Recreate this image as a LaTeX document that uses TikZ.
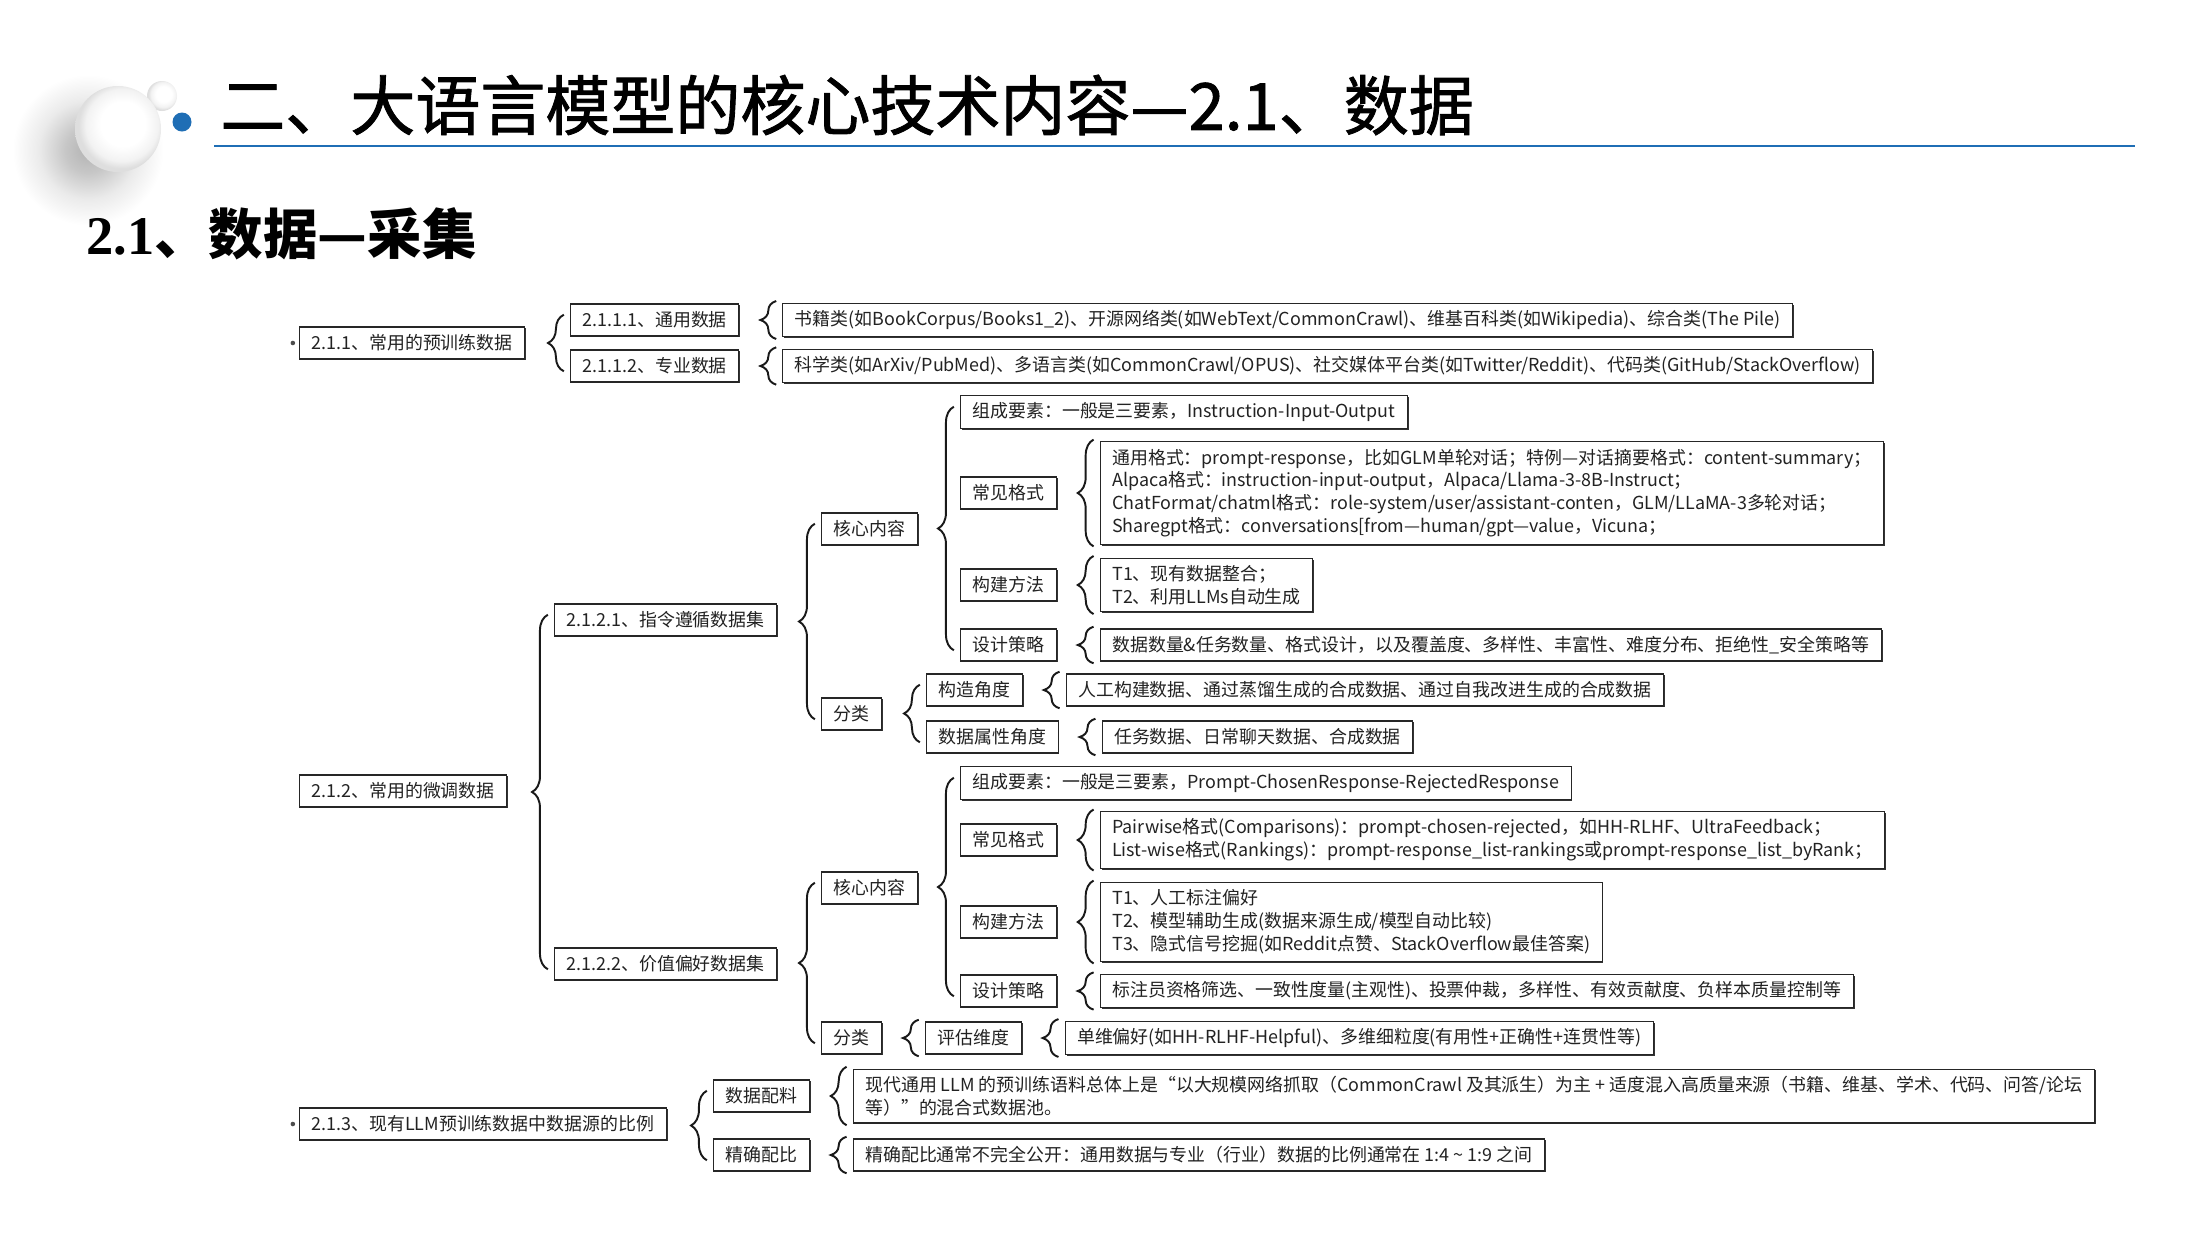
\documentclass[tikz,border=0pt]{standalone}
\usepackage{fontspec}
\setmainfont{Noto Sans CJK SC}
\newfontfamily\serifbold{Liberation Serif}
\newfontfamily\titlefont{Noto Sans CJK SC}[FakeBold=1.3]
\usepackage{xcolor}
\usepackage{tikz}
\usetikzlibrary{positioning, decorations.pathreplacing, shadows}

\definecolor{titleblue}{RGB}{31,110,181}
\definecolor{mapink}{RGB}{34,34,34}
\newcommand\mapfont{\fontsize{10.2}{13}\selectfont}

\pgfdeclareradialshading{softshadow}{\pgfpoint{0bp}{0bp}}{%
  color(0bp)=(black!30); color(7bp)=(black!22); color(15bp)=(black!8); color(23bp)=(white); color(50bp)=(white)}
\pgfdeclareradialshading{spherelit}{\pgfpoint{4bp}{4bp}}{%
  color(0bp)=(white); color(13bp)=(white); color(21bp)=(black!5); color(25bp)=(black!13); color(50bp)=(black!13)}

\begin{document}
\begin{tikzpicture}[
        x=0.02cm, y=-0.02cm,
        node distance = 0.86cm,
        box/.style = {draw=black!85, line width=0.6pt, fill=white, text=mapink, font=\mapfont, inner xsep=0.24cm, inner ysep=4pt, minimum height=0.64cm, align=left, anchor=west, drop shadow={shadow xshift=0.8pt, shadow yshift=-0.8pt, opacity=1, fill=black!80}},
        brc/.style = {decorate, decoration={brace, amplitude=9pt}, line width=1.1pt, black!90},
        dotm/.style = {circle, fill=black!70, inner sep=0pt, minimum size=2.6pt}
    ]
        \fill[white] (0,0) rectangle (2200,1238);
        \useasboundingbox (0,0) rectangle (2200,1238);

        % Header: spheres, title, rule
        \shade[shading=softshadow] (88,150) circle (82);
        \shade[shading=spherelit] (162,96) circle (15);
        \shade[shading=spherelit] (118,129) circle (43);
        \fill[titleblue] (182,122) circle (9.5);
        \node[anchor=west, inner sep=0pt, font=\fontsize{37}{40}\titlefont] (title) at (220,105) {二、大语言模型的核心技术内容—2.1、数据};
        \draw[titleblue, line width=1.7pt] (214,146) -- (2135,146);
        \node[anchor=west, inner sep=0pt, font=\fontsize{31}{34}\selectfont\bfseries] (sub) at (86,234) {{\serifbold 2.1}、数据—采集};

        % 2.1.1 pre-training data
        \node [box] (n211) at (299,343) {2.1.1、常用的预训练数据};
        \node [dotm, left=2pt of n211] (d211) {};
        \node [box] (n2111) at (570,320) {2.1.1.1、通用数据};
        \node [box] (n2112) at (570,366) {2.1.1.2、专业数据};
        \node [box, right=of n2111] (t2111) {书籍类(如BookCorpus/Books1\_2)、开源网络类(如WebText/CommonCrawl)、维基百科类(如Wikipedia)、综合类(The Pile)};
        \node [box, right=of n2112] (t2112) {科学类(如ArXiv/PubMed)、多语言类(如CommonCrawl/OPUS)、社交媒体平台类(如Twitter/Reddit)、代码类(GitHub/StackOverflow)};

        % 2.1.2 fine-tuning data
        \node [box] (n212) at (299,791) {2.1.2、常用的微调数据};
        \node [box] (n2121) at (554,620) {2.1.2.1、指令遵循数据集};
        \node [box] (n2122) at (554,964) {2.1.2.2、价值偏好数据集};

        % 2.1.2.1 instruction data
        \node [box] (hx1) at (821,529) {核心内容};
        \node [box] (fl1) at (821,714) {分类};
        \node [box] (zc1) at (960,412) {组成要素：一般是三要素，Instruction-Input-Output};
        \node [box] (gs1) at (960,493) {常见格式};
        \node [box] (gj1) at (960,585) {构建方法};
        \node [box] (sj1) at (960,645) {设计策略};
        \node [box, right=of gs1] (fmt1) {通用格式：prompt-response，比如GLM单轮对话；特例—对话摘要格式：content-summary；\\Alpaca格式：instruction-input-output，Alpaca/Llama-3-8B-Instruct；\\ChatFormat/chatml格式：role-system/user/assistant-conten，GLM/LLaMA-3多轮对话；\\Sharegpt格式：conversations[from—human/gpt—value，Vicuna；};
        \node [box, right=of gj1] (mk1) {T1、现有数据整合；\\T2、利用LLMs自动生成};
        \node [box, right=of sj1] (st1) {数据数量\&任务数量、格式设计，以及覆盖度、多样性、丰富性、难度分布、拒绝性\_安全策略等};
        \node [box] (gz) at (926,690) {构造角度};
        \node [box] (sx) at (926,737) {数据属性角度};
        \node [box, right=of gz] (gzt) {人工构建数据、通过蒸馏生成的合成数据、通过自我改进生成的合成数据};
        \node [box, right=of sx] (sxt) {任务数据、日常聊天数据、合成数据};

        % 2.1.2.2 preference data
        \node [box] (hx2) at (821,888) {核心内容};
        \node [box] (fl2) at (821,1038) {分类};
        \node [box] (zc2) at (960,783) {组成要素：一般是三要素，Prompt-ChosenResponse-RejectedResponse};
        \node [box] (gs2) at (960,840) {常见格式};
        \node [box] (gj2) at (960,922) {构建方法};
        \node [box] (sj2) at (960,991) {设计策略};
        \node [box, right=of gs2] (fmt2) {Pairwise格式(Comparisons)：prompt-chosen-rejected，如HH-RLHF、UltraFeedback；\\List-wise格式(Rankings)：prompt-response\_list-rankings或prompt-response\_list\_byRank；};
        \node [box, right=of gj2] (mk2) {T1、人工标注偏好\\T2、模型辅助生成(数据来源生成/模型自动比较)\\T3、隐式信号挖掘(如Reddit点赞、StackOverflow最佳答案)};
        \node [box, right=of sj2] (st2) {标注员资格筛选、一致性度量(主观性)、投票仲裁，多样性、有效贡献度、负样本质量控制等};
        \node [box, right=of fl2] (pg) {评估维度};
        \node [box, right=of pg] (pgt) {单维偏好(如HH-RLHF-Helpful)、多维细粒度(有用性+正确性+连贯性等)};

        % 2.1.3 source ratio
        \node [box] (n213) at (299,1124) {2.1.3、现有LLM预训练数据中数据源的比例};
        \node [dotm, left=2pt of n213] (d213) {};
        \node [box] (pei) at (713,1096) {数据配料};
        \node [box] (bi) at (713,1155) {精确配比};
        \node [box, right=of pei] (tpei) {现代通用 LLM 的预训练语料总体上是“以大规模网络抓取（CommonCrawl 及其派生）为主 + 适度混入高质量来源（书籍、维基、学术、代码、问答/论坛\\等）”的混合式数据池。};
        \node [box, right=of bi] (tbi) {精确配比通常不完全公开：通用数据与专业（行业）数据的比例通常在 1:4 \textasciitilde{} 1:9 之间};

        % Braces: groups
        \draw [brc] ([xshift=-3.5pt, yshift=-3pt]n2112.west) -- ([xshift=-3.5pt, yshift=3pt]n2111.west);
        \draw [brc] ([xshift=-3.5pt, yshift=-3pt]n2122.west) -- ([xshift=-3.5pt, yshift=3pt]n2121.west);
        \draw [brc] ([xshift=-3.5pt, yshift=-3pt]fl1.west) -- ([xshift=-3.5pt, yshift=3pt]hx1.west);
        \draw [brc] ([xshift=-3.5pt, yshift=-3pt]sj1.west) -- ([xshift=-3.5pt, yshift=3pt]zc1.west);
        \draw [brc] ([xshift=-3.5pt, yshift=-3pt]sx.west) -- ([xshift=-3.5pt, yshift=3pt]gz.west);
        \draw [brc] ([xshift=-3.5pt, yshift=-3pt]fl2.west) -- ([xshift=-3.5pt, yshift=3pt]hx2.west);
        \draw [brc] ([xshift=-3.5pt, yshift=-3pt]sj2.west) -- ([xshift=-3.5pt, yshift=3pt]zc2.west);
        \draw [brc] ([xshift=-3.5pt, yshift=-3pt]bi.west) -- ([xshift=-3.5pt, yshift=3pt]pei.west);

        % Braces: single children
        \draw [brc] ([xshift=-3.5pt, yshift=-1pt]t2111.south west) -- ([xshift=-3.5pt, yshift=1pt]t2111.north west);
        \draw [brc] ([xshift=-3.5pt, yshift=-1pt]t2112.south west) -- ([xshift=-3.5pt, yshift=1pt]t2112.north west);
        \draw [brc] ([xshift=-3.5pt, yshift=-1pt]fmt1.south west) -- ([xshift=-3.5pt, yshift=1pt]fmt1.north west);
        \draw [brc] ([xshift=-3.5pt, yshift=-1pt]mk1.south west) -- ([xshift=-3.5pt, yshift=1pt]mk1.north west);
        \draw [brc] ([xshift=-3.5pt, yshift=-1pt]st1.south west) -- ([xshift=-3.5pt, yshift=1pt]st1.north west);
        \draw [brc] ([xshift=-3.5pt, yshift=-1pt]gzt.south west) -- ([xshift=-3.5pt, yshift=1pt]gzt.north west);
        \draw [brc] ([xshift=-3.5pt, yshift=-1pt]sxt.south west) -- ([xshift=-3.5pt, yshift=1pt]sxt.north west);
        \draw [brc] ([xshift=-3.5pt, yshift=-1pt]fmt2.south west) -- ([xshift=-3.5pt, yshift=1pt]fmt2.north west);
        \draw [brc] ([xshift=-3.5pt, yshift=-1pt]mk2.south west) -- ([xshift=-3.5pt, yshift=1pt]mk2.north west);
        \draw [brc] ([xshift=-3.5pt, yshift=-1pt]st2.south west) -- ([xshift=-3.5pt, yshift=1pt]st2.north west);
        \draw [brc] ([xshift=-3.5pt, yshift=-1pt]pg.south west) -- ([xshift=-3.5pt, yshift=1pt]pg.north west);
        \draw [brc] ([xshift=-3.5pt, yshift=-1pt]pgt.south west) -- ([xshift=-3.5pt, yshift=1pt]pgt.north west);
        \draw [brc] ([xshift=-3.5pt, yshift=-1pt]tpei.south west) -- ([xshift=-3.5pt, yshift=1pt]tpei.north west);
        \draw [brc] ([xshift=-3.5pt, yshift=-1pt]tbi.south west) -- ([xshift=-3.5pt, yshift=1pt]tbi.north west);

    \end{tikzpicture}
\end{document}
